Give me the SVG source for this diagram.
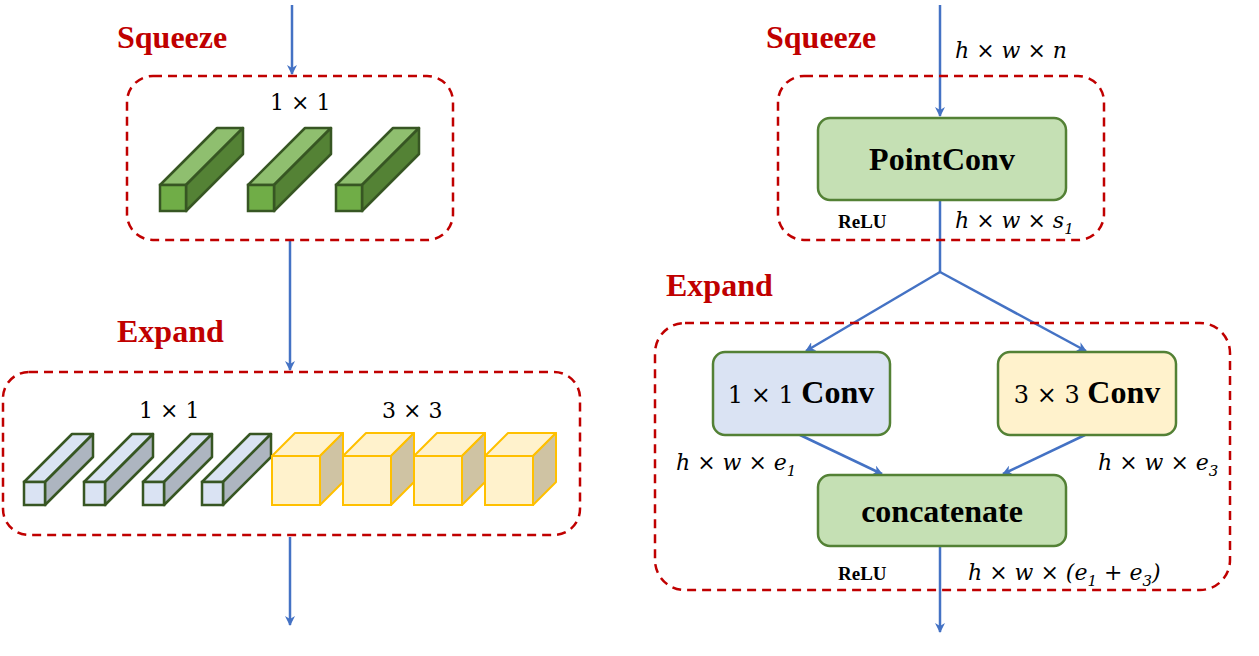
<svg xmlns="http://www.w3.org/2000/svg" width="1259" height="656" viewBox="0 0 1259 656">
<defs>
<marker id="ah" markerWidth="10" markerHeight="10" refX="9" refY="5" orient="auto" markerUnits="userSpaceOnUse"><path d="M0,0 L10,5 L0,10 L3,5 Z" fill="#4472c4"/></marker>
<g id="gb"><path d="M0,26 L57,-31 L83,-31 L26,26 Z" fill="#8fbf6f" stroke="#375623" stroke-width="2.5" stroke-linejoin="round"/><path d="M26,26 L83,-31 L83,-5 L26,52 Z" fill="#548235" stroke="#375623" stroke-width="2.5" stroke-linejoin="round"/><rect x="0" y="26" width="26" height="26" fill="#70ad47" stroke="#375623" stroke-width="2.5"/></g>
<g id="bb"><path d="M0,23 L48,-25 L69,-25 L21,23 Z" fill="#dae3f3" stroke="#375623" stroke-width="2.5" stroke-linejoin="round"/><path d="M21,23 L69,-25 L69,-2 L21,46 Z" fill="#adb5c0" stroke="#375623" stroke-width="2.5" stroke-linejoin="round"/><rect x="0" y="23" width="21" height="23" fill="#dae3f3" stroke="#375623" stroke-width="2.5"/></g>
<g id="yb"><path d="M0,23 L23,0 L71,0 L48,23 Z" fill="#fff2cc" stroke="#ffc000" stroke-width="2" stroke-linejoin="round"/><path d="M48,23 L71,0 L71,49 L48,72 Z" fill="#cfc3a3" stroke="#ffc000" stroke-width="2" stroke-linejoin="round"/><rect x="0" y="23" width="48" height="49" fill="#fff2cc" stroke="#ffc000" stroke-width="2"/></g>
</defs>
<style>
.title{font-family:"Liberation Serif",serif;font-weight:bold;font-size:32px;fill:#c00000}
.dash{fill:none;stroke:#c00000;stroke-width:2.5;stroke-dasharray:9,6}
.ln{stroke:#4472c4;stroke-width:2.5;fill:none}
.m{font-family:"DejaVu Serif","Liberation Serif",serif;font-size:22px;fill:#000}
.mi{font-family:"DejaVu Serif","Liberation Serif",serif;font-style:italic;font-size:22px;fill:#000}
.node{stroke:#538135;stroke-width:2.5}
.nt{font-family:"Liberation Serif",serif;font-weight:bold;font-size:32px;fill:#000;text-anchor:middle}
.relu{font-family:"Liberation Serif",serif;font-weight:bold;font-size:19px;fill:#000}
</style>
<g id="connectors">
<line class="ln" x1="292" y1="5" x2="292" y2="74" marker-end="url(#ah)"/>
<line class="ln" x1="290" y1="241" x2="290" y2="370" marker-end="url(#ah)"/>
<line class="ln" x1="290" y1="537" x2="290" y2="625" marker-end="url(#ah)"/>
<line class="ln" x1="940" y1="5" x2="940" y2="116" marker-end="url(#ah)"/>
<line class="ln" x1="940" y1="201" x2="940" y2="272"/>
<line class="ln" x1="940" y1="272" x2="806" y2="351" marker-end="url(#ah)"/>
<line class="ln" x1="940" y1="272" x2="1086" y2="351" marker-end="url(#ah)"/>
<line class="ln" x1="800" y1="435" x2="882" y2="474" marker-end="url(#ah)"/>
<line class="ln" x1="1085" y1="435" x2="1003" y2="474" marker-end="url(#ah)"/>
<line class="ln" x1="940" y1="547" x2="940" y2="632" marker-end="url(#ah)"/>
</g>
<g id="left-squeeze">
<text class="title" x="117" y="48">Squeeze</text>
<rect class="dash" x="127" y="76" width="326" height="164" rx="26"/>
<text class="m" x="270" y="110">1 × 1</text>
<use href="#gb" x="160" y="159"/><use href="#gb" x="248" y="159"/><use href="#gb" x="336" y="159"/>
</g>
<g id="left-expand">
<text class="title" x="117" y="342">Expand</text>
<rect class="dash" x="3" y="372" width="577" height="163" rx="26"/>
<text class="m" x="139" y="418">1 × 1</text>
<text class="m" x="382" y="418">3 × 3</text>
<use href="#bb" x="24" y="459"/><use href="#bb" x="84" y="459"/><use href="#bb" x="143" y="459"/><use href="#bb" x="202" y="459"/>
<use href="#yb" x="272" y="433"/><use href="#yb" x="343" y="433"/><use href="#yb" x="414" y="433"/><use href="#yb" x="485" y="433"/>
</g>
<g id="right-squeeze">
<text class="title" x="766" y="48">Squeeze</text>
<text class="mi" x="955" y="58">h × w × n</text>
<rect class="dash" x="778" y="76" width="326" height="164" rx="26"/>
</g>
<g id="pointconv">
<rect class="node" x="818" y="118" width="248" height="82" rx="12" fill="#c5e0b4"/>
<text class="nt" x="942" y="170">PointConv</text>
<text class="relu" x="838" y="228">ReLU</text>
<text class="mi" x="955" y="228">h × w × s<tspan font-size="15" dy="6">1</tspan></text>
</g>
<g id="right-expand">
<text class="title" x="666" y="296">Expand</text>
<rect class="dash" x="655" y="323" width="575" height="267" rx="30"/>
</g>
<g id="conv1">
<rect class="node" x="713" y="352" width="177" height="83" rx="12" fill="#dae3f3"/>
<text class="nt" x="801" y="403" font-size="28"><tspan font-weight="normal" font-family="DejaVu Serif,serif" font-size="24">1 × 1 </tspan>Conv</text>
<text class="mi" x="676" y="470">h × w × e<tspan font-size="15" dy="6">1</tspan></text>
</g>
<g id="conv3">
<rect class="node" x="998" y="352" width="178" height="83" rx="12" fill="#fff2cc"/>
<text class="nt" x="1087" y="403" font-size="28"><tspan font-weight="normal" font-family="DejaVu Serif,serif" font-size="24">3 × 3 </tspan>Conv</text>
<text class="mi" x="1098" y="470">h × w × e<tspan font-size="15" dy="6">3</tspan></text>
</g>
<g id="concat">
<rect class="node" x="818" y="475" width="248" height="71" rx="12" fill="#c5e0b4"/>
<text class="nt" x="942" y="522">concatenate</text>
<text class="relu" x="838" y="580">ReLU</text>
<text class="mi" x="968" y="580">h × w × (e<tspan font-size="15" dy="6">1</tspan><tspan dy="-6"> + e</tspan><tspan font-size="15" dy="6">3</tspan><tspan dy="-6">)</tspan></text>
</g>
</svg>
